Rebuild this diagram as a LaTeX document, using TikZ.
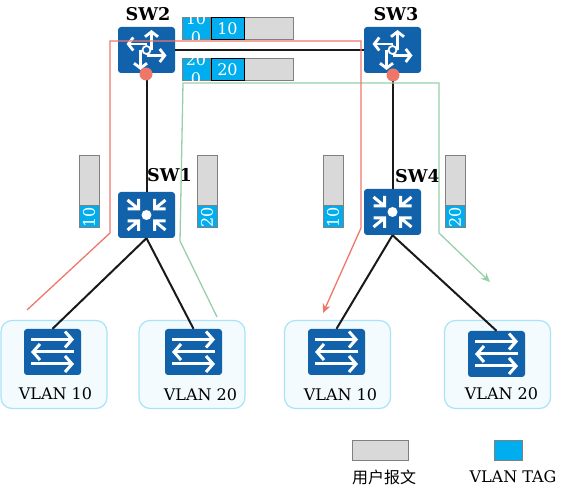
\documentclass[tikz,border=0pt]{standalone}
\usepackage{fontspec}
\setmainfont{DejaVu Serif}
\newfontfamily\vlancjk{Noto Sans CJK SC}
\usetikzlibrary{arrows.meta}
\definecolor{vlanicon}{HTML}{1162AB}
\definecolor{vlantag}{HTML}{00AEEF}
\definecolor{vlanbody}{HTML}{D9D9D9}
\definecolor{vlanedge}{HTML}{808080}
\definecolor{vlanred}{HTML}{F0766A}
\definecolor{vlangreen}{HTML}{97CFA9}
\definecolor{vlanhostfill}{HTML}{F3FBFF}
\definecolor{vlanhostedge}{HTML}{A9E3F8}
\def\VlanTextFont{\fontsize{16}{19}\selectfont}
\def\VlanNameFont{\fontsize{17.6}{20}\selectfont\bfseries}
\def\VlanIconW{57pt}
\def\VlanIconH{46pt}
\tikzset{
  vlanicon/.style={rectangle, rounded corners=3pt, draw=none, fill=vlanicon,
    minimum width=\VlanIconW, minimum height=\VlanIconH, inner sep=0pt},
  vlanhost/.style={rectangle, rounded corners=11pt, draw=vlanhostedge, fill=vlanhostfill,
    line width=1.2pt, minimum width=106pt, minimum height=88pt, inner sep=0pt},
  vlanname/.style={font=\VlanNameFont, inner sep=0pt},
  vlanlabel/.style={font=\VlanTextFont, inner sep=0pt},
  vlandot/.style={circle, fill=vlanred, minimum size=13pt, inner sep=0pt},
  vlanbox/.style={rectangle, draw=vlanedge, line width=1pt, inner sep=0pt},
  vlangray/.style={vlanbox, fill=vlanbody},
  vlanblue/.style={vlanbox, fill=vlantag, text=white, font=\VlanTextFont},
  vlanlink/.style={line width=2pt, black!90},
  vlanflowred/.style={->, line width=1.3pt, draw=vlanred, >={Stealth[length=9pt,width=8pt]}},
  vlanflowgreen/.style={->, line width=1.3pt, draw=vlangreen, >={Stealth[length=9pt,width=8pt]}},
  vlanglyph/.style={white, line width=2.8pt, ->, >={Straight Barb[length=5pt,width=13pt]}},
  vlanhostglyph/.style={white, line width=3pt, ->, >={Straight Barb[length=7pt,width=16pt]}},
}
\def\VlanRouterGlyph#1{%
  \begin{scope}[shift={(#1.center)}]
    \draw[vlanglyph] (5,0) -- (5,-20);
    \draw[vlanglyph] (0,-6) -- (-20,-6);
    \draw[vlanglyph] (0,5.5) -- (20,5.5);
    \draw[vlanglyph] (-6,0) -- (-6,20);
    \draw[white, line width=1.8pt, fill=vlanicon] (0,0) circle (4);
  \end{scope}%
}
\def\VlanSwitchGlyph#1{%
  \begin{scope}[shift={(#1.center)}]
    \fill[white] (0,0) circle (5);
    \foreach \sx/\sy in {1/1,1/-1,-1/1,-1/-1}
      \draw[white, line width=3pt]
        (\sx*19,\sy*15) -- (\sx*8,\sy*6)
        (\sx*8,\sy*16) -- (\sx*8,\sy*6) -- (\sx*19,\sy*6);
  \end{scope}%
}
\def\VlanHostGlyph#1{%
  \begin{scope}[shift={(#1.center)}]
    \draw[vlanhostglyph] (-21.5,-12.5) -- (21.5,-12.5);
    \draw[vlanhostglyph] (21.5,0) -- (-21.5,0);
    \draw[vlanhostglyph] (-21.5,12) -- (21.5,12);
  \end{scope}%
}
\def\VlanClipTag#1#2#3#4#5{%
  \node[vlanblue, minimum width=28pt, minimum height=22pt] (#1) at (#2,#3) {};
  \begin{scope}
    \clip (#1.north west) rectangle (#1.south east);
    \node[font=\VlanTextFont, text=white, align=center, inner sep=0pt] at (#2,#3-1) {#4\\#5};
  \end{scope}%
}
\begin{document}
\begin{tikzpicture}[x=1pt, y=-1pt]
  \useasboundingbox (0,0) rectangle (563,494);
  % hosts
  \node[vlanhost] (hostA) at (54,364.5) {};
  \node[vlanhost] (hostB) at (192,364.5) {};
  \node[vlanhost] (hostC) at (337.5,364.5) {};
  \node[vlanhost] (hostD) at (497.5,364.5) {};
  \node[vlanicon] (swHostA) at (52.5,352) {};
  \node[vlanicon] (swHostB) at (193.5,352) {};
  \node[vlanicon] (swHostC) at (336.5,352) {};
  \node[vlanicon] (swHostD) at (496.5,354) {};
  \foreach \n in {swHostA,swHostB,swHostC,swHostD} {\VlanHostGlyph{\n}}
  \node[vlanlabel] (labHostA) at (55.5,393.5) {VLAN 10};
  \node[vlanlabel] (labHostB) at (200.5,394.5) {VLAN 20};
  \node[vlanlabel] (labHostC) at (340.5,394.5) {VLAN 10};
  \node[vlanlabel] (labHostD) at (501.5,393.5) {VLAN 20};
  % switches
  \node[vlanicon] (swTwo) at (146.5,50) {};
  \node[vlanicon] (swThree) at (392.5,50) {};
  \node[vlanicon] (swOne) at (146.5,215) {};
  \node[vlanicon] (swFour) at (392.5,212) {};
  \VlanRouterGlyph{swTwo}
  \VlanRouterGlyph{swThree}
  \VlanSwitchGlyph{swOne}
  \VlanSwitchGlyph{swFour}
  \node[vlanname] (labTwo) at (148,14) {SW2};
  \node[vlanname] (labThree) at (396,14) {SW3};
  \node[vlanname] (labOne) at (169.5,175) {SW1};
  \node[vlanname] (labFour) at (417.5,176) {SW4};
  % links
  \draw[vlanlink] (swTwo.east) -- (swThree.west);
  \draw[vlanlink] (swTwo.south) -- (swOne.north);
  \draw[vlanlink] (swThree.south) -- (swFour.north);
  \draw[vlanlink] (swOne.south) -- (swHostA.north);
  \draw[vlanlink] (swOne.south) -- (swHostB.north);
  \draw[vlanlink] (swFour.south) -- (swHostC.north);
  \draw[vlanlink] (swFour.south) -- (swHostD.north);
  % tags on the trunk
  \VlanClipTag{tagTrunkA}{196}{29}{10}{0}
  \VlanClipTag{tagTrunkB}{196}{70}{20}{0}
  \node[vlangray, minimum width=49pt, minimum height=22pt] (bodyA) at (268.5,29) {};
  \node[vlangray, minimum width=49pt, minimum height=22pt] (bodyB) at (268.5,70) {};
  \node[vlanblue, draw=black, minimum width=33pt, minimum height=22pt] (tagA) at (227.5,29) {10};
  \node[vlanblue, draw=black, minimum width=33pt, minimum height=22pt] (tagB) at (227.5,70) {20};
  % tags on the access side
  \foreach \n/\x/\t in {a/89/10,b/207/20,c/333/10,d/455/20} {
    \node[vlangray, minimum width=20pt, minimum height=50pt] (body\n) at (\x,181) {};
    \node[vlanblue, minimum width=20pt, minimum height=22pt] (tag\n) at (\x,217) {\rotatebox{90}{\t}};
  }
  % flows
  \coordinate (redStart) at (27,310);
  \coordinate (redA) at (110,233);
  \coordinate (redB) at (110,41);
  \coordinate (redC) at (361,41);
  \coordinate (redD) at (361,228);
  \coordinate (redEnd) at (323,313);
  \coordinate (greenStart) at (217,317);
  \coordinate (greenA) at (180,241);
  \coordinate (greenB) at (183,83);
  \coordinate (greenC) at (439,83);
  \coordinate (greenD) at (439,233);
  \coordinate (greenEnd) at (490,282);
  \draw[vlanflowgreen] (greenStart) -- (greenA) -- (greenB) -- (greenC) -- (greenD) -- (greenEnd);
  \draw[vlanflowred] (redStart) -- (redA) -- (redB) -- (redC) -- (redD) -- (redEnd);
  \node[vlandot] (dotTwo) at (146,74) {};
  \node[vlandot] (dotThree) at (393,75) {};
  % legend
  \node[vlangray, minimum width=56pt, minimum height=20pt] (legBody) at (380,451) {};
  \node[vlanblue, minimum width=28pt, minimum height=20pt] (legTag) at (508,451) {};
  \node[vlanlabel, font=\VlanTextFont\vlancjk] (labBody) at (384,477) {用户报文};
  \node[vlanlabel] (labTag) at (513,477) {VLAN TAG};
\end{tikzpicture}
\end{document}
